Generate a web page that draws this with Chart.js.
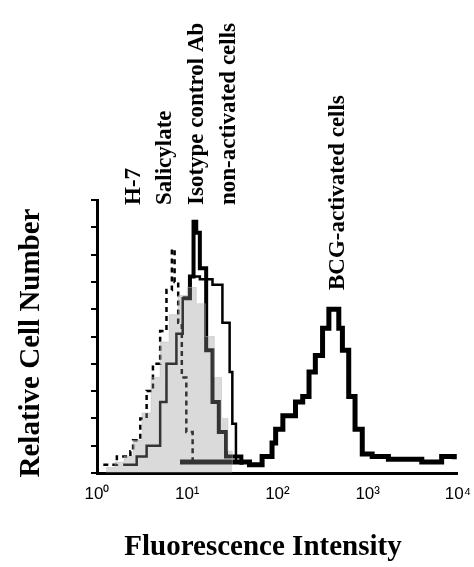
<!DOCTYPE html><html><head><script src="https://cdn.jsdelivr.net/npm/chart.js@4"></script>
<style>html,body{margin:0;background:#fff}#w{width:474px;height:567px}</style></head><body><div id="w"><canvas id="c"></canvas></div><script>
const tickLabels=['10⁰','10¹','10²','10³','10⁴'];
const h7X=[0.07,0.22,0.37,0.40,0.48,0.55,0.62,0.70,0.77,0.83,0.86,0.90,0.94,0.99,1.06];
const h7Y=[3,6,8,12,20,30,40,52,67,82,70,55,35,15,3];
const salX=[0.10,0.2,0.3,0.4,0.5,0.6,0.7,0.8,0.9,1.0,1.1,1.2,1.3,1.38,1.45,1.5];
const salY=[2,4,6,12,22,35,48,58,65,68,62,50,35,20,8,3];
const isoX=[0.29,0.44,0.55,0.70,0.77,0.88,0.95,1.03,1.14,1.28,1.39,1.47,1.50,1.54];
const isoY=[3,6,10,26,40,51,64,72,71,69,55,37,18,4];
const nonX=[0.95,1.03,1.07,1.10,1.14,1.21,1.28,1.35,1.43,1.6];
const nonY=[64,72,92,88,75,45,26,15,6,3];
const bcgX=[0.92,1.39,1.69,1.83,1.94,1.98,2.06,2.20,2.28,2.35,2.42,2.50,2.57,2.64,2.68,2.72,2.79,2.86,2.94,3.05,3.23,3.60,3.82,3.96];
const bcgY=[4,4,3,6,11,16,21,26,28,37,43,53,60,60,53,45,28,16,7,6,5,4,6,5];
const annos=[['H-7',134,205],['Salicylate',165,205],['Isotype control Ab',197,205],['non-activated cells',229,205],['BCG-activated cells',338,290]];
const pts=(xs,ys)=>xs.map((x,i)=>({x,y:ys[i]}));
const ser=(xs,ys,o)=>Object.assign({data:pts(xs,ys),pointRadius:0,stepped:true,borderColor:'#000',fill:false},o);
const textPlug={id:'t',afterDraw(ch){const c=ch.ctx;c.save();c.fillStyle='#000';
c.font='bold 23px "Liberation Serif"';
annos.forEach(([t,x,y])=>{c.save();c.translate(x,y);c.rotate(-Math.PI/2);c.textBaseline='middle';c.textAlign='left';c.fillText(t,0,0);c.restore();});
c.font='bold 29px "Liberation Serif"';c.textAlign='center';c.textBaseline='middle';
c.fillText('Fluorescence Intensity',263,548);
c.save();c.translate(32,343);c.rotate(-Math.PI/2);c.fillText('Relative Cell Number',0,0);c.restore();
c.restore();}};
new Chart(document.getElementById('c'),{type:'line',data:{datasets:[
ser(salX,salY,{borderWidth:0.5,borderColor:'#bbb',fill:'origin',backgroundColor:'rgba(150,150,150,0.35)'}),
ser(h7X,h7Y,{borderWidth:2.5,borderDash:[5,4]}),
ser(isoX,isoY,{borderWidth:2.5}),
ser(nonX,nonY,{borderWidth:4}),
ser(bcgX,bcgY,{borderWidth:5})]},
options:{animation:false,responsive:true,maintainAspectRatio:false,
layout:{padding:{left:0,top:200,right:12,bottom:0}},
plugins:{legend:{display:false},tooltip:{enabled:false}},
scales:{x:{type:'linear',min:0,max:4,border:{width:3,color:'#000'},grid:{display:false},
 afterFit:s=>{s.height=94;},
 ticks:{stepSize:1,color:'#000',font:{size:17,family:'Liberation Sans'},padding:3,callback:v=>tickLabels[v]}},
 y:{min:0,max:100,border:{width:3,color:'#000'},grid:{drawOnChartArea:false,drawTicks:true,tickLength:6,color:'#000',lineWidth:2},
 afterFit:s=>{s.width=97;},ticks:{stepSize:10,display:true,color:'rgba(0,0,0,0)',font:{size:1}}}}},
plugins:[textPlug]});
</script></body></html>
